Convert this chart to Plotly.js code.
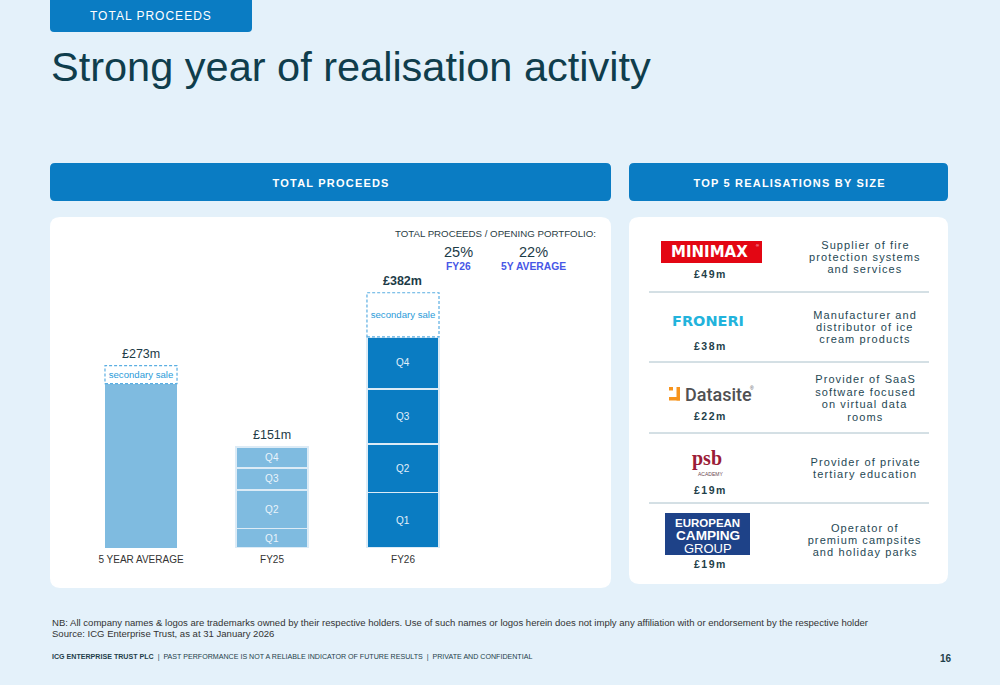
<!DOCTYPE html>
<html><head><meta charset="utf-8">
<script src="https://cdn.plot.ly/plotly-3.0.1.min.js"></script>
<style>html,body{margin:0;padding:0;background:#e4f1fa;overflow:hidden} #chart{width:1000px;height:685px;}</style>
</head><body><div id="chart"></div>
<script>
// ---------------- DATA ----------------
const categories = ['5 YEAR AVERAGE', 'FY25', 'FY26'];
const quarterLabels = ['Q1', 'Q2', 'Q3', 'Q4'];
const fiveYearBase = [246];              // 5Y average excl. secondary sale (£m)
const fy25Quarters = [29, 58, 33, 31];   // £m by quarter
const fy26Quarters = [83, 73, 82, 78];   // £m by quarter
const secondarySale = [27, 0, 66];       // £m: 5Y avg, FY25, FY26
const secondaryLabel = 'secondary sale';
const ratioTitle = 'TOTAL PROCEEDS / OPENING PORTFOLIO:';
const ratioValues = ['25%', '22%'];
const ratioLabels = ['FY26', '5Y AVERAGE'];
const companies = ['MINIMAX', 'FRONERI', 'Datasite', 'psb', 'EUROPEAN CAMPING GROUP'];
const companyProceeds = [49, 38, 22, 19, 19];
const descriptions = [
  'Supplier of fire<br>protection systems<br>and services',
  'Manufacturer and<br>distributor of ice<br>cream products',
  'Provider of SaaS<br>software focused<br>on virtual data<br>rooms',
  'Provider of private<br>tertiary education',
  'Operator of<br>premium campsites<br>and holiday parks'
];

// ---------------- HELPERS ----------------
const W = 1000, H = 685;
const X = p => p / W, Y = p => 1 - p / H;
const FONT = 'Liberation Sans, Arial, Helvetica, sans-serif';
const ann = [], shapes = [], spacing = {};
function addText(text, x, y, size, color, opts = {}, ls = 0) {
  const f = Object.assign({family: FONT, size: size, color: color}, opts.font || {});
  const a = Object.assign({xref: 'paper', yref: 'paper', showarrow: false,
    xanchor: 'center', yanchor: 'middle'}, opts);
  a.text = text; a.x = X(x); a.y = Y(y); a.font = f;
  if (ls) spacing[ann.length] = ls;
  ann.push(a);
}
function P(x, y) { return X(x).toFixed(5) + ',' + Y(y).toFixed(5); }
function roundRect(x0, y0, x1, y1, r, fill, c) {
  c = c || [r, r, r, r];
  const [a, b, d, e] = c;
  const path = 'M' + P(x0 + a, y0) + ' L' + P(x1 - b, y0) + ' Q' + P(x1, y0) + ' ' + P(x1, y0 + b) +
    ' L' + P(x1, y1 - d) + ' Q' + P(x1, y1) + ' ' + P(x1 - d, y1) +
    ' L' + P(x0 + e, y1) + ' Q' + P(x0, y1) + ' ' + P(x0, y1 - e) +
    ' L' + P(x0, y0 + a) + ' Q' + P(x0, y0) + ' ' + P(x0 + a, y0) + ' Z';
  shapes.push({type: 'path', xref: 'paper', yref: 'paper', path: path, fillcolor: fill,
    line: {width: 0}, layer: 'below'});
}
function rect(x0, y0, x1, y1, fill, layer) {
  shapes.push({type: 'rect', xref: 'paper', yref: 'paper', x0: X(x0), x1: X(x1), y0: Y(y1), y1: Y(y0),
    fillcolor: fill, line: {width: 0}, layer: layer || 'above'});
}
function hline(x0, x1, y, color) {
  shapes.push({type: 'line', xref: 'paper', yref: 'paper', x0: X(x0), x1: X(x1), y0: Y(y), y1: Y(y),
    line: {color: color, width: 1}, layer: 'above'});
}

// ---------------- PAGE FURNITURE ----------------
const BLUE = '#0a7cc3', DARK = '#0f3d4c', TXT = '#2a3d45';
roundRect(50, -6, 252, 32, 4, BLUE);
addText('TOTAL PROCEEDS', 151, 16, 12, '#ffffff', {}, 1);
addText('Strong year of realisation activity', 49, 67, 41.5, DARK, {xanchor: 'left'});

roundRect(50, 163, 611, 201, 5, BLUE);
roundRect(629, 163, 948, 201, 5, BLUE);
addText('<b>TOTAL PROCEEDS</b>', 331, 183, 11, '#ffffff', {}, 1.2);
addText('<b>TOP 5 REALISATIONS BY SIZE</b>', 789, 183, 11, '#ffffff', {}, 1.2);

roundRect(50, 217, 611, 588, 10, '#ffffff');
roundRect(629, 217, 948, 584, 10, '#ffffff');

// ---------------- BAR CHART ----------------
const lightBlue = '#7fbbe0', darkBlue = '#0a7cc2';
const barW = 0.55;
const traces = [];
traces.push({type: 'bar', x: [0], y: fiveYearBase, width: barW,
  marker: {color: lightBlue, line: {color: '#ffffff', width: 1}}, hoverinfo: 'skip', showlegend: false});
quarterLabels.forEach((q, k) => {
  traces.push({type: 'bar', x: [1, 2], y: [fy25Quarters[k], fy26Quarters[k]], width: barW,
    text: [q, q], textposition: 'inside', insidetextanchor: 'middle', textangle: 0, constraintext: 'none',
    textfont: {family: FONT, size: 10, color: ['#eaf4fb', '#e2effa']},
    marker: {color: [lightBlue, darkBlue], line: {color: '#dcebf6', width: 1.5}},
    hoverinfo: 'skip', showlegend: false});
});
const secX = [], secY = [];
secondarySale.forEach((v, i) => { if (v > 0) { secX.push(i); secY.push(v); } });
traces.push({type: 'bar', x: secX, y: secY, width: barW,
  text: secX.map(() => secondaryLabel), textposition: 'inside', insidetextanchor: 'middle',
  textangle: 0, constraintext: 'none',
  textfont: {family: FONT, size: 9.6, color: '#2b9bd9'},
  marker: {color: '#ffffff', line: {width: 0}}, hoverinfo: 'skip', showlegend: false});

const sum = a => a.reduce((s, v) => s + v, 0);
const baseVals = [sum(fiveYearBase), sum(fy25Quarters), sum(fy26Quarters)];
const totals = baseVals.map((b, i) => b + secondarySale[i]);
secondarySale.forEach((v, i) => {
  if (v > 0) shapes.push({type: 'rect', xref: 'x', yref: 'y', x0: i - barW / 2, x1: i + barW / 2,
    y0: baseVals[i], y1: totals[i], fillcolor: 'rgba(0,0,0,0)',
    line: {color: '#5aaee2', width: 1.2, dash: '3px,2px'}, layer: 'above'});
});
totals.forEach((t, i) => {
  ann.push({xref: 'x', yref: 'y', x: i, y: t, yanchor: 'bottom', xanchor: 'center', yshift: 3,
    showarrow: false, text: i === 2 ? '<b>£' + t + 'm</b>' : '£' + t + 'm',
    font: {family: FONT, size: 12.5, color: '#1d3b47'}});
});

addText(ratioTitle, 495, 233, 9.7, TXT);
const ratioX = [458, 533];
ratioValues.forEach((v, i) => {
  addText(v, ratioX[i], 252, 14.5, '#1d3b47');
  addText('<b>' + ratioLabels[i] + '</b>', ratioX[i], 266, 10.3, '#4757e6');
});

// ---------------- TOP 5 PANEL ----------------
const rowCenters = [257, 327, 398, 468, 540];
const valueY = [274, 346, 416, 490, 564];
const logoY = [252, 321, 394, 458, 534];
descriptions.forEach((d, i) => {
  const lines = d.split('<br>');
  lines.forEach((ln, j) => {
    addText(ln, 865, rowCenters[i] + (j - (lines.length - 1) / 2) * 12.4, 11, '#1f4854', {}, 1.1);
  });
  addText('<b>£' + companyProceeds[i] + 'm</b>', 710, valueY[i], 10.5, '#1f3f4a', {}, 1.5);
});
[292, 362, 433, 503].forEach(y => hline(649, 929, y, '#a9c0ca'));

// Logos (drawn as text marks)
rect(661, 241, 762, 263, '#e30613');
addText('<b>' + companies[0] + '</b>', 709, logoY[0] + 0.5, 15, '#ffffff', {font: {family: 'DejaVu Sans, sans-serif'}});
addText('®', 757, 245, 4, '#ffffff');
addText('<b>' + companies[1] + '</b>', 708, logoY[1], 14.5, '#22b3dc', {font: {family: 'DejaVu Sans, sans-serif'}});
rect(669, 387, 673, 390.5, '#f7941d');
rect(676.5, 387, 680, 400.5, '#f7941d');
rect(669, 397, 680, 400.5, '#f7941d');
addText(companies[2], 718, logoY[2], 18, '#505052', {font: {family: 'Roboto, sans-serif', weight: 500}});
addText('®', 752, 388, 5, '#505052');
addText('<b>' + companies[3] + '</b>', 707, logoY[3], 20, '#9b1c37', {font: {family: 'Liberation Serif, serif'}});
addText('ACADEMY', 710, 473.5, 5, '#6b4a52');
rect(665, 513, 750, 555, '#1e4288');
const ecg = companies[4].split(' ');
addText('<b>' + ecg[0] + '</b>', 707.5, 522.5, 11.5, '#ffffff');
addText('<b>' + ecg[1] + '</b>', 707.5, 535, 13.6, '#ffffff');
addText(ecg[2], 707.5, 548, 13, '#ffffff');

// ---------------- FOOTER ----------------
addText('NB: All company names & logos are trademarks owned by their respective holders. Use of such names or logos herein does not imply any affiliation with or endorsement by the respective holder',
  50, 622, 9.55, '#333333', {xanchor: 'left'});
addText('Source: ICG Enterprise Trust, as at 31 January 2026', 50, 633.5, 9.55, '#333333', {xanchor: 'left'});
addText('<b>ICG ENTERPRISE TRUST PLC</b>  |  PAST PERFORMANCE IS NOT A RELIABLE INDICATOR OF FUTURE RESULTS  |  PRIVATE AND CONFIDENTIAL',
  50, 657, 7.1, '#1f3f4a', {xanchor: 'left'});
addText('<b>16</b>', 946, 658, 10, '#1f3f4a');

// ---------------- LAYOUT ----------------
const layout = {
  width: W, height: H,
  margin: {l: 0, r: 0, t: 0, b: 0},
  paper_bgcolor: '#e4f1fa', plot_bgcolor: 'rgba(0,0,0,0)',
  barmode: 'stack', showlegend: false,
  font: {family: FONT},
  xaxis: {domain: [0.07, 0.60], range: [-0.542, 3.504], tickmode: 'array',
    tickvals: categories.map((c, i) => i), ticktext: categories,
    tickfont: {family: FONT, size: 10, color: '#333333'}, ticklabelstandoff: 4,
    showgrid: false, zeroline: false, showline: false, ticks: '', fixedrange: true},
  yaxis: {domain: [1 - 548 / 685, 1 - 260 / 685], range: [0, 431], visible: false, fixedrange: true},
  shapes: shapes, annotations: ann
};

Plotly.newPlot('chart', traces, layout, {displayModeBar: false, staticPlot: true}).then(() => {
  document.querySelectorAll('#chart g.annotation').forEach(g => {
    const idx = +g.getAttribute('data-index');
    if (spacing[idx]) {
      const t = g.querySelector('text');
      if (t) t.style.letterSpacing = spacing[idx] + 'px';
    }
  });
});
</script>
</body></html>
